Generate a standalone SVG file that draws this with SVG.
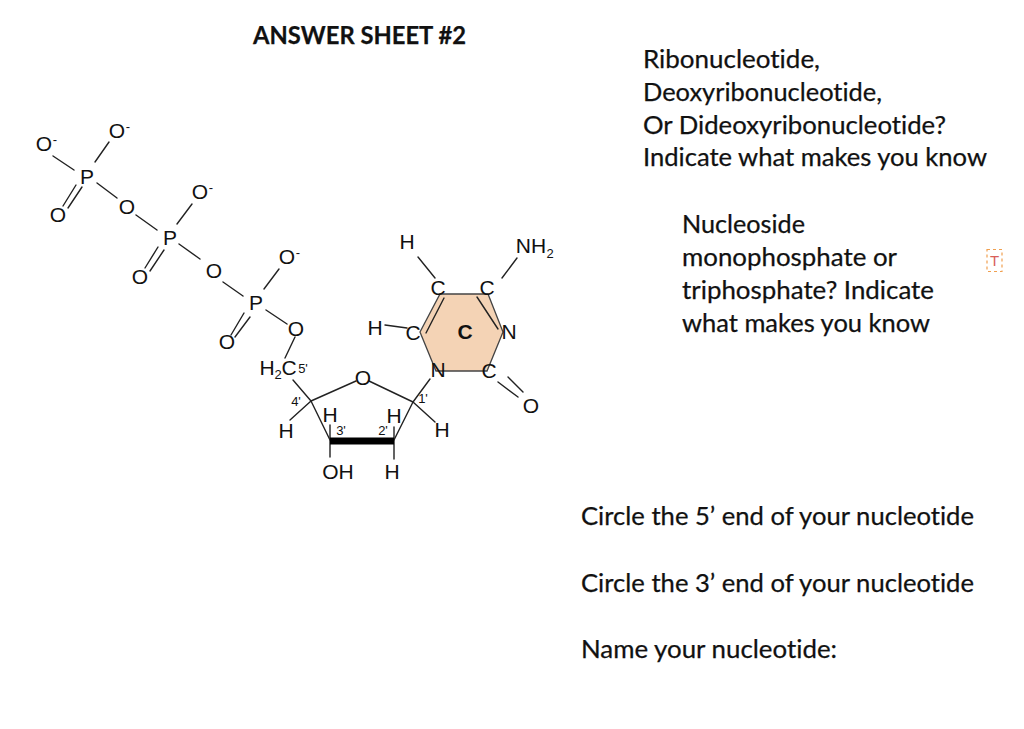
<svg xmlns="http://www.w3.org/2000/svg" width="1024" height="729" viewBox="0 0 1024 729">
<style>
.b{stroke:#222;stroke-width:1.4;fill:none;stroke-linecap:round}
.t{font-family:"Lato","Open Sans","Liberation Sans",sans-serif;font-size:25px;fill:#111;font-variant-ligatures:none;stroke:#111;stroke-width:.25}
.c{font-family:"Liberation Sans",Arial,sans-serif;font-size:21px;fill:#111;text-anchor:middle}
.s{font-family:"Liberation Sans",Arial,sans-serif;font-size:13px;fill:#111;text-anchor:middle}
</style>
<rect width="1024" height="729" fill="#fff"/>
<g id="title"><text class="t" x="253" y="44" font-weight="700" textLength="213" lengthAdjust="spacingAndGlyphs">ANSWER SHEET #2</text></g>
<g id="question-1">
<text class="t" x="643" y="68" textLength="177" lengthAdjust="spacingAndGlyphs">Ribonucleotide,</text>
<text class="t" x="643" y="101" textLength="239" lengthAdjust="spacingAndGlyphs">Deoxyribonucleotide,</text>
<text class="t" x="643" y="134" textLength="303" lengthAdjust="spacingAndGlyphs">Or Dideoxyribonucleotide?</text>
<text class="t" x="643" y="166" textLength="344" lengthAdjust="spacingAndGlyphs">Indicate what makes you know</text>
</g>
<g id="question-2">
<text class="t" x="682" y="233" textLength="123" lengthAdjust="spacingAndGlyphs">Nucleoside</text>
<text class="t" x="682" y="266" textLength="215" lengthAdjust="spacingAndGlyphs">monophosphate or</text>
<text class="t" x="682" y="299" textLength="252" lengthAdjust="spacingAndGlyphs">triphosphate? Indicate</text>
<text class="t" x="682" y="332" textLength="248" lengthAdjust="spacingAndGlyphs">what makes you know</text>
</g>
<g id="question-3">
<text class="t" x="581" y="525" textLength="393" lengthAdjust="spacingAndGlyphs">Circle the 5’ end of your nucleotide</text>
<text class="t" x="581" y="592" textLength="393" lengthAdjust="spacingAndGlyphs">Circle the 3’ end of your nucleotide</text>
<text class="t" x="581" y="658" textLength="256" lengthAdjust="spacingAndGlyphs">Name your nucleotide:</text>
</g>
<g id="text-marker">
<rect x="987" y="249.500" width="15" height="22" fill="none" stroke="#f0a050" stroke-width="1.200" stroke-dasharray="3 3"/>
<text x="994.500" y="266" font-family="Liberation Sans, sans-serif" font-size="15" text-anchor="middle" fill="#d9605a">T</text>
</g>
<g id="base-ring"><polygon points="440,294 488,294 503,332 487,371 436,371 420,332" fill="#f4d3b5" stroke="#444" stroke-width="1.300"/></g>
<g id="connectors">
<path class="b" d="M53 156L74 170M95 162L109 142M97 183L117 198M76 185L63 206M82 187L68 208"/>
<path class="b" d="M136 215L157 230M177 224L192 204M179 244L200 259M158 247L145 268M164 250L150 271"/>
<path class="b" d="M223 282L243 296M264 289L279 269M266 310L287 324M244 313L231 335M250 317L235 337M295 337L285 358"/>
<path class="b" d="M293 380L311 401M311 401L356 381M369 381L413 402M311 401L330 440M413 402L394 440M311 401L290 420M413 402L435 422M413 402L430 379"/>
<path class="b" d="M330 425V457M394 427V459"/>
<path d="M330 441H394" stroke="#000" stroke-width="7" fill="none"/>
<path class="b" d="M444 298L426 333M477 297L498 329M385 325L407 328M418 257L435 278M517 258L502 278M498 382L518 397M508 377L523 392"/>
</g>
<g id="phosphate-labels">
<text class="c" x="44" y="151">O</text><text class="s" x="55" y="144">-</text>
<text class="c" x="117" y="138">O</text><text class="s" x="128" y="131">-</text>
<text class="c" x="87" y="184">P</text>
<text class="c" x="58" y="222">O</text>
<text class="c" x="127" y="214">O</text>
<text class="c" x="170" y="245">P</text>
<text class="c" x="200" y="199">O</text><text class="s" x="211" y="192">-</text>
<text class="c" x="140" y="284">O</text>
<text class="c" x="214" y="278">O</text>
<text class="c" x="256" y="310">P</text>
<text class="c" x="287" y="264">O</text><text class="s" x="298" y="257">-</text>
<text class="c" x="227" y="349">O</text>
<text class="c" x="296" y="336">O</text>
</g>
<g id="sugar-labels">
<text class="c" x="267" y="375">H</text><text class="s" x="278" y="379">2</text><text class="c" x="289" y="375">C</text>
<text class="s" x="303" y="373">5'</text>
<text class="c" x="363" y="385">O</text>
<text class="s" x="296" y="406">4'</text>
<text class="s" x="423" y="403">1'</text>
<text class="s" x="341" y="435">3'</text>
<text class="s" x="383" y="435">2'</text>
<text class="c" x="286" y="438">H</text>
<text class="c" x="330" y="422">H</text>
<text class="c" x="394" y="423">H</text>
<text class="c" x="442" y="437">H</text>
<text class="c" x="338" y="479">OH</text>
<text class="c" x="392" y="479">H</text>
</g>
<g id="base-labels">
<text class="c" x="407" y="249">H</text>
<text class="c" x="375" y="335">H</text>
<text class="c" x="413" y="340">C</text>
<text class="c" x="438" y="295">C</text>
<text class="c" x="487" y="295">C</text>
<text class="c" x="509" y="339">N</text>
<text class="c" x="438" y="377">N</text>
<text class="c" x="489" y="378">C</text>
<text class="c" x="531" y="413">O</text>
<text class="c" x="531" y="253">NH</text><text class="s" x="550" y="258">2</text>
<text class="c" x="465" y="339" font-weight="700">C</text>
</g>
</svg>
